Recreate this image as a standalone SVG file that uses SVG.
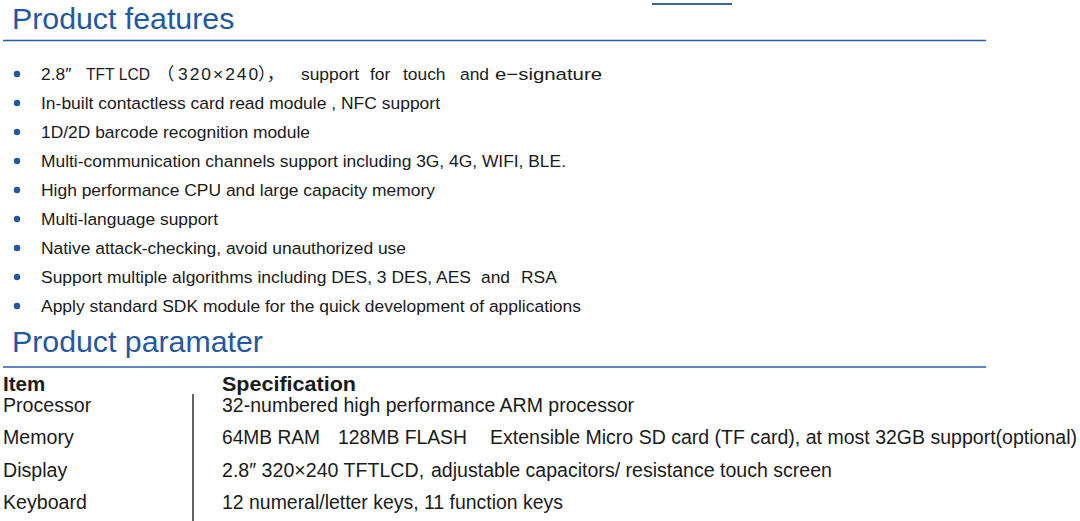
<svg xmlns="http://www.w3.org/2000/svg" width="1080" height="521" viewBox="0 0 1080 521">
<style>
.h{font-family:"Liberation Sans",Arial,sans-serif;font-size:30.3px;fill:#2357a3}
.b{font-family:"Liberation Sans",Arial,sans-serif;font-size:17.4px;fill:#1a1a1a}
.cj{font-family:"Liberation Sans","Noto Sans CJK SC",sans-serif}
.t{font-family:"Liberation Sans",Arial,sans-serif;font-size:19.6px;fill:#1a1a1a}
.th{font-family:"Liberation Sans",Arial,sans-serif;font-size:20.5px;font-weight:bold;fill:#1a1a1a}
.dot{fill:#2357a3}
.rule{stroke:#2a5ea8;stroke-width:1.6}
</style>
<rect width="1080" height="521" fill="#ffffff"/>
<line x1="652" y1="4" x2="732" y2="4" stroke="#3f6691" stroke-width="2"/>
<g id="features">
<text class="h" x="12" y="29">Product features</text>
<line class="rule" x1="3" y1="40.5" x2="986" y2="40.5"/>
<g id="bullets">
<circle class="dot" cx="17" cy="74" r="3.2"/>
<circle class="dot" cx="17" cy="103" r="3.2"/>
<circle class="dot" cx="17" cy="132" r="3.2"/>
<circle class="dot" cx="17" cy="161" r="3.2"/>
<circle class="dot" cx="17" cy="190" r="3.2"/>
<circle class="dot" cx="17" cy="219" r="3.2"/>
<circle class="dot" cx="17" cy="248" r="3.2"/>
<circle class="dot" cx="17" cy="277" r="3.2"/>
<circle class="dot" cx="17" cy="306" r="3.2"/>
</g>
<text class="b" y="80" font-size="17"><tspan x="41">2.8″</tspan><tspan x="86" textLength="64" lengthAdjust="spacingAndGlyphs">TFT LCD</tspan><tspan class="cj" x="157">（</tspan><tspan x="178" letter-spacing="2">320×240</tspan><tspan class="cj" x="258">），</tspan><tspan x="301">support</tspan><tspan x="370">for</tspan><tspan x="403">touch</tspan><tspan x="460">and</tspan><tspan x="495" textLength="107" lengthAdjust="spacingAndGlyphs">e−signature</tspan></text>
<text class="b" x="41" y="109" textLength="399" lengthAdjust="spacingAndGlyphs">In-built contactless card read module , NFC support</text>
<text class="b" x="41" y="138" textLength="269" lengthAdjust="spacingAndGlyphs">1D/2D barcode recognition module</text>
<text class="b" x="41" y="167" textLength="525" lengthAdjust="spacingAndGlyphs">Multi-communication channels support including 3G, 4G, WIFI, BLE.</text>
<text class="b" x="41" y="196" textLength="394" lengthAdjust="spacingAndGlyphs">High performance CPU and large capacity memory</text>
<text class="b" x="41" y="225" textLength="177" lengthAdjust="spacingAndGlyphs">Multi-language support</text>
<text class="b" x="41" y="254" textLength="365" lengthAdjust="spacingAndGlyphs">Native attack-checking, avoid unauthorized use</text>
<text class="b" y="283"><tspan x="41" textLength="430" lengthAdjust="spacingAndGlyphs">Support multiple algorithms including DES, 3 DES, AES</tspan><tspan x="481">and</tspan><tspan x="521">RSA</tspan></text>
<text class="b" x="41" y="312" textLength="540" lengthAdjust="spacingAndGlyphs">Apply standard SDK module for the quick development of applications</text>
</g>
<g id="parameters">
<text class="h" x="12" y="352">Product paramater</text>
<line class="rule" x1="3" y1="367" x2="986" y2="367"/>
<text class="th" x="3" y="391">Item</text>
<text class="th" x="222" y="391" textLength="134" lengthAdjust="spacingAndGlyphs">Specification</text>
<line x1="193" y1="394" x2="193" y2="521" stroke="#222" stroke-width="1.4"/>
<text class="t" x="3" y="412">Processor</text>
<text class="t" x="3" y="444">Memory</text>
<text class="t" x="3" y="477">Display</text>
<text class="t" x="3" y="509">Keyboard</text>
<text class="t" x="222" y="412" textLength="412" lengthAdjust="spacingAndGlyphs">32-numbered high performance ARM processor</text>
<text class="t" y="444"><tspan x="222" textLength="98" lengthAdjust="spacingAndGlyphs">64MB RAM</tspan><tspan x="338" textLength="129" lengthAdjust="spacingAndGlyphs">128MB FLASH</tspan><tspan x="490" textLength="587" lengthAdjust="spacingAndGlyphs">Extensible Micro SD card (TF card), at most 32GB support(optional)</tspan></text>
<text class="t" y="477"><tspan x="222">2.8″ 320×240 TFTLCD,</tspan><tspan x="431" textLength="401" lengthAdjust="spacingAndGlyphs">adjustable capacitors/ resistance touch screen</tspan></text>
<text class="t" x="222" y="509" textLength="341" lengthAdjust="spacingAndGlyphs">12 numeral/letter keys, 11 function keys</text>
</g>
</svg>
